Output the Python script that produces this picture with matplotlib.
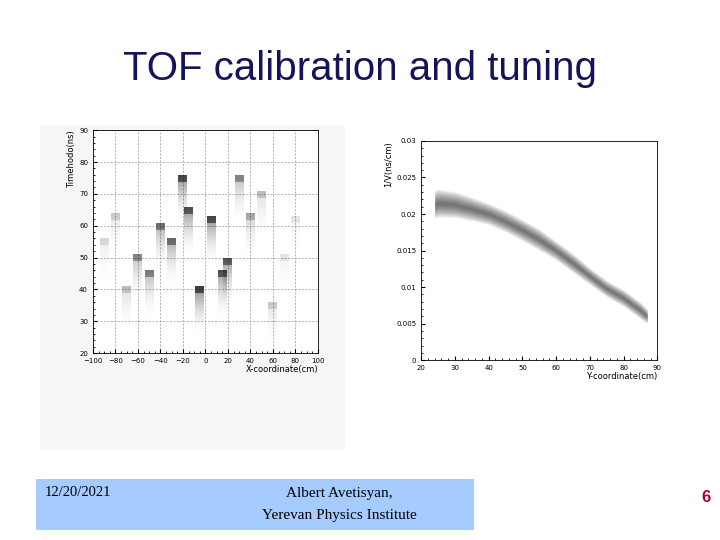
import matplotlib
matplotlib.use("Agg")
import matplotlib.pyplot as plt
import numpy as np
from matplotlib.patches import Rectangle
from matplotlib.ticker import MultipleLocator

# Left plot: cluster positions (x centre, top time, darkness 0..1)
clu_x = [-90, -80, -70, -60, -50, -40, -30, -20, -15, -5, 5, 15, 20, 30, 40, 50, 60, 70, 80]
clu_y = [55, 63, 40, 50, 45, 60, 55, 75, 65, 40, 62, 45, 49, 75, 63, 70, 35, 50, 62]
clu_d = [0.15, 0.2, 0.25, 0.5, 0.55, 0.6, 0.65, 0.85, 0.8, 0.9, 0.85, 0.8, 0.75, 0.5, 0.35, 0.25, 0.2, 0.1, 0.1]

# Right plot: band centre curve
band_x = [24, 25, 30, 35, 40, 45, 50, 55, 60, 65, 70, 75, 80, 85, 87]
band_y = [0.0213, 0.0215, 0.0213, 0.0207, 0.0200, 0.0190, 0.0178, 0.0165, 0.0150, 0.0133, 0.0115, 0.0098, 0.0085, 0.0068, 0.0060]
band_w = [0.0012, 0.0012, 0.0011, 0.0010, 0.0009, 0.0009, 0.0009, 0.0009, 0.0008, 0.0008, 0.0007, 0.0007, 0.0007, 0.0007, 0.0006]

fig = plt.figure(figsize=(7.2, 5.4), dpi=100)
fig.patch.set_facecolor("white")

fig.text(0.5, 0.873, "TOF calibration and tuning", ha="center", va="center",
         fontsize=29, family="Liberation Sans", color="#14145a")

fig.add_artist(Rectangle((40/720, 1-450/540), 305/720, 325/540, transform=fig.transFigure,
                         facecolor="#f6f6f6", edgecolor="none", zorder=0))

tick_kw = dict(labelsize=5, direction="in", length=3)

ax1 = fig.add_axes([0.129, 0.346, 0.3125, 0.413])
ax1.set_facecolor("white")
ax1.set_xlim(-100, 100); ax1.set_ylim(20, 90)
ax1.set_xticks(range(-100, 101, 20)); ax1.set_yticks(range(20, 91, 10))
ax1.xaxis.set_minor_locator(MultipleLocator(5)); ax1.yaxis.set_minor_locator(MultipleLocator(2))
ax1.grid(True, ls=(0, (3, 2)), lw=0.5, color="#999999")
ax1.tick_params(which="both", **tick_kw)
ax1.tick_params(which="minor", length=1.5)
grad = np.linspace(1, 0, 64)[:, None] ** 2
for x, y, d in zip(clu_x, clu_y, clu_d):
    img = np.zeros((64, 1, 4)); img[..., 3] = grad * d * 0.55
    ax1.imshow(img, extent=(x - 4, x + 4, y - 15, y + 1), aspect="auto", zorder=2, interpolation="bilinear")
    ax1.add_patch(Rectangle((x - 4, y - 1.2), 8, 2.2, facecolor="black", alpha=d * 0.6, edgecolor="none", zorder=3))
ax1.set_xlabel("X-coordinate(cm)", fontsize=6, loc="right", labelpad=1)
ax1.set_ylabel("Timehodo(ns)", fontsize=6, loc="top", labelpad=2)
for s in ax1.spines.values(): s.set_linewidth(0.6)

ax2 = fig.add_axes([0.585, 0.333, 0.328, 0.406])
ax2.set_xlim(20, 90); ax2.set_ylim(0, 0.03)
ax2.set_xticks(range(20, 91, 10)); ax2.set_yticks([0, 0.005, 0.01, 0.015, 0.02, 0.025, 0.03])
ax2.set_yticklabels(["0", "0.005", "0.01", "0.015", "0.02", "0.025", "0.03"])
ax2.xaxis.set_minor_locator(MultipleLocator(2)); ax2.yaxis.set_minor_locator(MultipleLocator(0.001))
ax2.tick_params(which="both", **tick_kw)
ax2.tick_params(which="minor", length=1.5)
bx = np.array(band_x); by = np.array(band_y); bw = np.array(band_w)
for k in np.linspace(1.6, 0.2, 10):
    ax2.fill_between(bx, by - bw * k, by + bw * k, color="black", alpha=0.07, lw=0)
ax2.set_xlabel("Y-coordinate(cm)", fontsize=6, loc="right", labelpad=1)
ax2.set_ylabel("1/V(ns/cm)", fontsize=6, loc="top", labelpad=2)
for s in ax2.spines.values(): s.set_linewidth(0.6)

fig.add_artist(Rectangle((36/720, 1-530/540), 438/720, 51/540, transform=fig.transFigure,
                         facecolor="#a6cbff", edgecolor="none"))
fig.text(45/720, 1-492/540, "12/20/2021", fontsize=10.5, family="Liberation Serif", va="center")
fig.text(339/720, 1-494/540, "Albert Avetisyan,", fontsize=11, family="Liberation Serif", ha="center", va="center")
fig.text(339/720, 1-516/540, "Yerevan Physics Institute", fontsize=11, family="Liberation Serif", ha="center", va="center")
fig.text(706/720, 1-497/540, "6", fontsize=12, family="Liberation Sans", weight="bold",
         color="#b0003a", ha="center", va="center")

fig.savefig("out.png", dpi=100)
